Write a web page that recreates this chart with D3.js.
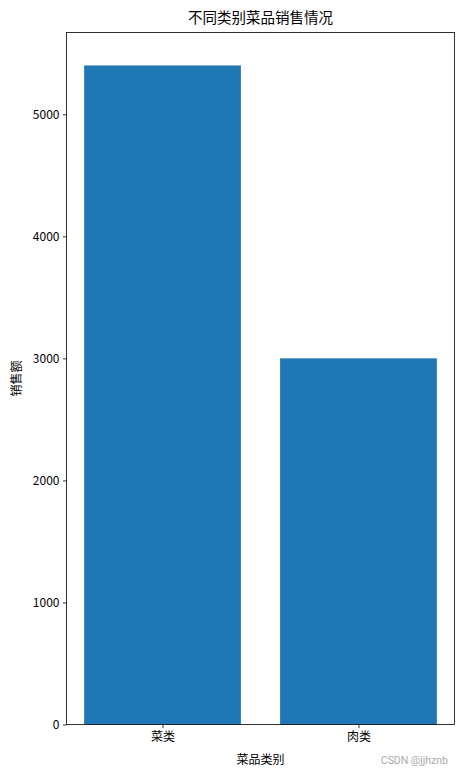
<!DOCTYPE html>
<html><head><meta charset="utf-8">
<script src="https://cdn.jsdelivr.net/npm/d3@7"></script>
<style>body{margin:0;background:#fff}svg{display:block}text{font-family:"Noto Sans CJK SC","DejaVu Sans",sans-serif}</style>
</head><body>
<script>
const categories = ["菜类", "肉类"];
const sales = [5400, 3000];
const yTicks = [0, 1000, 2000, 3000, 4000, 5000];
const title = "不同类别菜品销售情况";
const xLabel = "菜品类别";
const yLabel = "销售额";

const W = 463, H = 776;
const L = 66.5, R = 454.5, T = 32.5, B = 724.5;
const svg = d3.select("body").append("svg").attr("width", W).attr("height", H);

const x = d3.scaleLinear().domain([-0.49, 1.49]).range([L, R]);
const y = d3.scaleLinear().domain([0, 5670]).range([B, T]);

svg.selectAll("rect.bar").data(sales).enter().append("rect")
  .attr("x", (d, i) => x(i - 0.4)).attr("width", (d, i) => x(i + 0.4) - x(i - 0.4))
  .attr("y", d => y(d)).attr("height", d => y(0) - y(d)).attr("fill", "#1f77b4");

const yAxis = svg.append("g").attr("transform", `translate(${L},0)`)
  .call(d3.axisLeft(y).tickValues(yTicks).tickSize(3.5).tickPadding(3.5).tickFormat(d3.format("d")));
const xAxis = svg.append("g").attr("transform", `translate(0,${B})`)
  .call(d3.axisBottom(x).tickValues([0, 1]).tickSize(3.5).tickPadding(4).tickFormat(i => categories[i]));
[yAxis, xAxis].forEach(g => {
  g.select(".domain").remove();
  g.selectAll("text").attr("font-size", 12).attr("fill", "#000").style("font-family", '"Noto Sans CJK SC","DejaVu Sans",sans-serif');
  g.selectAll("line").attr("stroke", "#000").attr("stroke-width", 0.8);
});

svg.append("rect").attr("x", L).attr("y", T).attr("width", R - L).attr("height", B - T)
  .attr("fill", "none").attr("stroke", "#000").attr("stroke-width", 0.8);

svg.append("text").attr("x", (L + R) / 2).attr("y", T - 10).attr("text-anchor", "middle")
  .attr("font-size", 14.5).text(title);
svg.append("text").attr("x", (L + R) / 2).attr("y", 764).attr("text-anchor", "middle")
  .attr("font-size", 12).text(xLabel);
svg.append("text").attr("transform", `translate(21,${(T + B) / 2}) rotate(-90)`).attr("text-anchor", "middle")
  .attr("font-size", 12).text(yLabel);
svg.append("text").attr("x", 448).attr("y", 764).attr("text-anchor", "end")
  .attr("font-size", 10.5).attr("fill", "#aaa").style("font-family", "Roboto,sans-serif").text("CSDN @jjhznb");
</script>
</body></html>
